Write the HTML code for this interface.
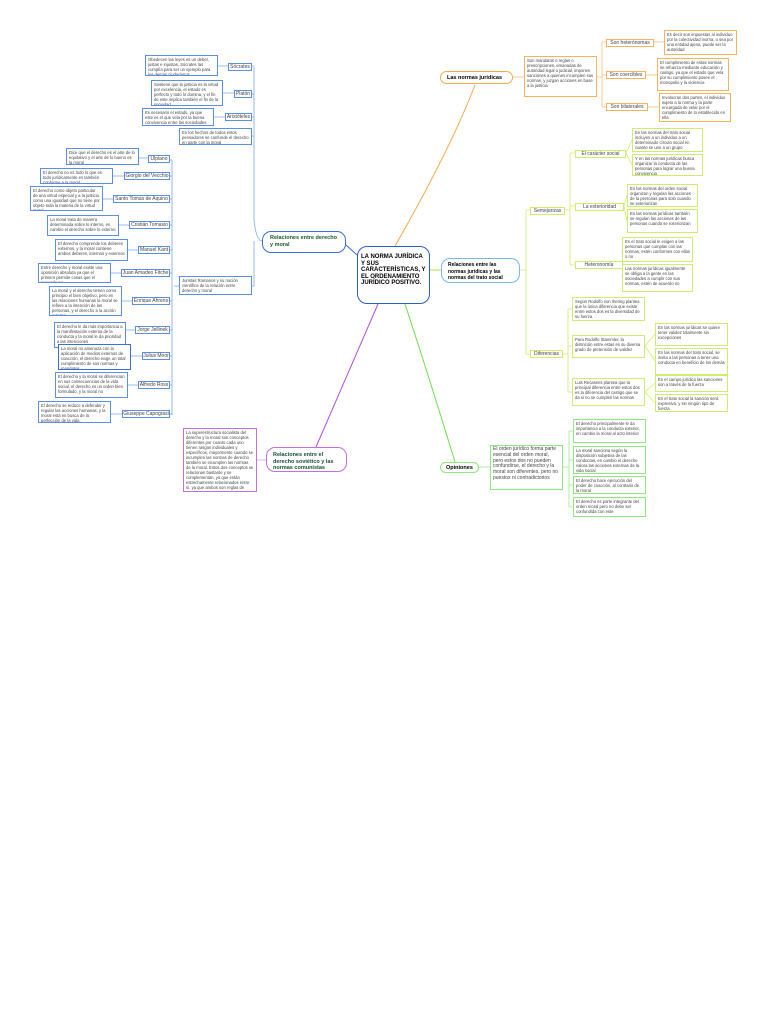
<!DOCTYPE html>
<html><head><meta charset="utf-8"><style>
body{margin:0;width:768px;height:1024px;background:#fff;position:relative;overflow:hidden;font-family:"Liberation Sans",sans-serif}
.b{position:absolute;box-sizing:border-box;font-size:4.2px;line-height:5px;color:#444;padding:1px 2px;overflow:hidden;background:#fff}
.bl{border:1.4px solid #5a8ee8}
.or{border:1.4px solid #f7b35a}
.gr{border:1.4px solid #cdee6a}
.gg{border:1.4px solid #8fe87a}
.pu{border:1.4px solid #c070e0}
.l{font-size:5px;line-height:6px;text-align:center;padding:0}
.t{position:absolute;box-sizing:border-box;border-radius:9px;background:#fff;font-weight:bold;font-size:6px;line-height:7px;padding:3px 7px;color:#123}
svg{position:absolute;left:0;top:0}
</style></head><body>
<svg width="768" height="1024" fill="none">
<path d="M395 246 Q450 150 475 85" stroke="#f7a94a" stroke-width="1"/>
<path d="M430 270 L441 270" stroke="#b8e03a" stroke-width="1"/>
<path d="M405 304 Q430 380 455 462" stroke="#6ede4a" stroke-width="1"/>
<path d="M378 304 L316 447" stroke="#b050e0" stroke-width="1"/>
<path d="M357 255 L346 245" stroke="#3a6ed8" stroke-width="1"/>
<g stroke="#7aa8ee" stroke-width="0.8">
<path d="M262 241 Q256 240 254 220 L254 67 M254 241 L254 286 L252 286"/>
<path d="M252 66 L254 66 M252 94 L254 94 M252 117 L254 117 M252 136 L254 136"/>
<path d="M218 66 L228 66 M223 93 L234 93 M214 117 L225 117"/>
<path d="M179 286 L174 286 M172 160 L172 415"/>
<path d="M170 160 L172 160 M170 176 L172 176 M170 199 L172 199 M170 225 L172 225 M170 250 L172 250 M170 273 L172 273 M170 301 L172 301 M170 330 L172 330 M170 356 L172 356 M170 385 L172 385 M170 414 L172 414"/>
<path d="M139 158 L148 158 M113 176 L124 176 M103 199 L113 199 M119 225 L129 225 M128 250 L138 250 M111 273 L121 273 M122 301 L132 301 M126 330 L135 330 M131 356 L142 356 M128 385 L138 385 M111 414 L122 414"/>
</g>
<g stroke="#f7c07a" stroke-width="0.8">
<path d="M513 77 L524 77 M597 77 L602 77 M602 42 L602 107 M602 42 L606 42 M602 75 L606 75 M602 107 L606 107 M654 42 L664 42 M646 75 L657 75 M648 107 L659 107"/>
</g>
<g stroke="#cdee6a" stroke-width="0.8">
<path d="M520 270 L526 270 M526 210 L526 354 M526 210 L530 210 M526 354 L530 354"/>
<path d="M565 210 L570 210 M570 153 L570 265 M570 153 L575 153 M570 206 L575 206 M570 265 L575 265"/>
<path d="M626 153 L632 140 M626 153 L632 165 M624 206 L627 195 M624 206 L627 221 M623 265 L622 250 M623 265 L622 278"/>
<path d="M563 354 L568 354 M568 309 L568 392 M568 309 L572 309 M568 346 L572 346 M568 392 L572 392"/>
<path d="M645 346 L655 334 M645 346 L655 361 M645 392 L655 383 M645 392 L655 403"/>
</g>
<g stroke="#9fe88a" stroke-width="0.8">
<path d="M479 467 L490 467 M563 467 L569 467 M569 431 L573 431 M569 460 L573 460 M569 485 L573 485 M569 507 L573 507 M569 431 L569 507"/>
</g>
<path d="M257 460 L266 460" stroke="#d8a0f0" stroke-width="0.8"/>
</svg>

<div class="t" style="left:357px;top:246px;width:73px;height:58px;border:1.6px solid #2a5ec8;border-radius:10px;padding:7px 2px 2px 3px;font-size:6px;line-height:6.5px;color:#000">LA NORMA JURÍDICA Y SUS CARACTERÍSTICAS, Y EL ORDENAMIENTO JURÍDICO POSITIVO.</div>

<div class="t" style="left:262px;top:231px;width:84px;height:22px;border:1px solid #3a6ed8;color:#1a5a2a;font-size:5.5px;line-height:7px;padding:3px 7px">Relaciones entre derecho y moral</div>
<div class="t" style="left:440px;top:71px;width:73px;height:13px;border:1px solid #f7a94a;color:#000;font-size:5.5px;padding:3px 6px">Las normas jurídicas</div>
<div class="t" style="left:441px;top:258px;width:79px;height:25px;border:1px solid #7ab8e8;color:#000;font-size:5px;line-height:6.5px;padding:3px 6px">Relaciones entre las normas jurídicas y las normas del trato social</div>
<div class="t" style="left:440px;top:462px;width:39px;height:11px;border:1px solid #8fe87a;color:#000;font-size:5.5px;padding:2px 5px">Opiniones</div>
<div class="t" style="left:266px;top:447px;width:81px;height:25px;border:1px solid #c070e0;color:#1a4a3a;font-size:5.5px;line-height:6.5px;padding:4px 6px">Relaciones entre el derecho soviético y las normas comunistas</div>

<div class="b or" style="left:524px;top:56px;width:73px;height:41px">Son mandatos o reglas o prescripciones, emanadas de autoridad legal o judicial, imponen sanciones a quienes incumplen sus normas, y juzgan acciones en base a la justicia</div>
<div class="b or l" style="left:606px;top:39px;width:48px;height:8px">Son heterónomas</div>
<div class="b or" style="left:664px;top:30px;width:73px;height:25px">Es decir son impuestas al individuo por la colectividad inorna, o sea por una entidad ajena, puede ser la autoridad</div>
<div class="b or l" style="left:606px;top:71px;width:40px;height:8px">Son coercibles</div>
<div class="b or" style="left:657px;top:58px;width:72px;height:33px">El cumplimiento de estas normas se refuerza mediante educación y castigo, ya que el estado que vela por su cumplimiento posee el monopolio y la violencia</div>
<div class="b or l" style="left:606px;top:103px;width:42px;height:8px">Son bilaterales</div>
<div class="b or" style="left:659px;top:93px;width:72px;height:29px">Involucran dos partes, el individuo sujeto a la norma y la parte encargada de velar por el cumplimiento de lo establecido en ella</div>

<div class="b gr l" style="left:530px;top:207px;width:35px;height:8px">Semejanzas</div>
<div class="b gr l" style="left:575px;top:150px;width:51px;height:8px">El carácter social</div>
<div class="b gr" style="left:632px;top:128px;width:71px;height:24px">En las normas del trato social incluyen a un individuo a un determinado círculo social en cuanto se une a un grupo</div>
<div class="b gr" style="left:632px;top:154px;width:71px;height:22px">Y en las normas jurídicas busca organizar la conducta de las personas para lograr una buena convivencia</div>
<div class="b gr l" style="left:575px;top:203px;width:49px;height:8px">La exterioridad</div>
<div class="b gr" style="left:627px;top:184px;width:71px;height:23px">En las normas del orden social organizan y regulan las acciones de la personas para solo cuando se exteriorizan</div>
<div class="b gr" style="left:627px;top:209px;width:71px;height:24px">En las normas jurídicas también se regulan las acciones de las personas cuando se exteriorizan</div>
<div class="b gr l" style="left:575px;top:261px;width:48px;height:8px">Heteronomía</div>
<div class="b gr" style="left:622px;top:237px;width:71px;height:25px">En el trato social le exigen a las personas que cumplan con las normas, estén conformes con ellas o no</div>
<div class="b gr" style="left:622px;top:264px;width:71px;height:28px">Las normas jurídicas igualmente se obliga a la gente en las sociedades a cumplir con sus normas, estén de acuerdo no</div>
<div class="b gr l" style="left:530px;top:350px;width:33px;height:8px">Diferencias</div>
<div class="b gr" style="left:572px;top:297px;width:73px;height:24px">Según Rodolfo von Ihering plantea que la única diferencia que existe entre estos dos es la diversidad de su fuerza</div>
<div class="b gr" style="left:572px;top:335px;width:73px;height:23px">Para Rodolfo Stammler, la distinción entre estas es su diversa grado de pretensión de validez</div>
<div class="b gr" style="left:655px;top:323px;width:73px;height:23px">En las normas jurídicas se quiere tener validez totalmente sin excepciones</div>
<div class="b gr" style="left:655px;top:348px;width:73px;height:27px">En las normas del trato social, se invita a las personas a tener una conducta en beneficio de los demás</div>
<div class="b gr" style="left:572px;top:378px;width:73px;height:28px">Luis Recasens plantea que la principal diferencia entre estos dos es la diferencia del castigo que se da si no se cumplen las normas</div>
<div class="b gr" style="left:655px;top:375px;width:73px;height:17px">En el campo jurídico las sanciones son a través de la fuerza</div>
<div class="b gr" style="left:655px;top:394px;width:73px;height:18px">En el trato social la sanción será expresiva, y sin ningún tipo de fuerza</div>

<div class="b gg" style="left:490px;top:445px;width:73px;height:45px;font-size:5px;line-height:5.8px">El orden jurídico forma parte esencial del orden moral, pero estos dos no pueden confundirse, el derecho y la moral son diferentes, pero no puestos ni contradictorios</div>
<div class="b gg" style="left:573px;top:419px;width:73px;height:24px">El derecho principalmente le da importancia a la conducta exterior, en cambio la moral al acto interior</div>
<div class="b gg" style="left:573px;top:446px;width:73px;height:28px">La moral sanciona según la disposición subjetiva de las conductas, en cambio el derecho valora las acciones externas de la vida social</div>
<div class="b gg" style="left:573px;top:476px;width:73px;height:18px">El derecho hace ejecución del poder de coacción, al contrario de la moral</div>
<div class="b gg" style="left:573px;top:497px;width:73px;height:20px">El derecho es parte integrante del orden moral pero no debe ser confundida con este</div>

<div class="b pu" style="left:183px;top:428px;width:74px;height:64px">La superestructura socialista del derecho y la moral son conceptos diferentes por cuanto cada uno tienen rasgos individuales y específicos, mayormente cuando se incumplen las normas de derecho también se incumplen las normas de la moral. Estos dos conceptos se relacionan bastante y se complementan, ya que están estrechamente relacionados entre sí, ya que ambos son reglas de conducta</div>

<div class="b bl" style="left:145px;top:55px;width:73px;height:21px">Obedecen las leyes es un deber, justas e injustas, Sócrates las cumplía para ser un ejemplo para los demás ciudadanos</div>
<div class="b bl l" style="left:228px;top:63px;width:24px;height:8px">Sócrates</div>
<div class="b bl" style="left:151px;top:80px;width:72px;height:26px">Sostiene que la justicia es la virtud por excelencia, el estado es perfecto y todo lo domina, y el fin de este implica también el fin de la sociedad</div>
<div class="b bl l" style="left:234px;top:90px;width:18px;height:8px">Platón</div>
<div class="b bl" style="left:142px;top:108px;width:72px;height:18px">Es necesario el estado, ya que este es el que vela por la buena convivencia entre las sociedades</div>
<div class="b bl l" style="left:225px;top:113px;width:27px;height:8px">Aristóteles</div>
<div class="b bl" style="left:179px;top:128px;width:73px;height:17px">En los hechos de todos estos pensadores se confunde el derecho en parte con la moral</div>
<div class="b bl" style="left:179px;top:276px;width:73px;height:19px">Juristas Romanos y su noción científica de la relación entre derecho y moral</div>

<div class="b bl" style="left:66px;top:148px;width:73px;height:17px">Dice que el derecho es el arte de lo equitativo y el arte de lo bueno es la moral</div>
<div class="b bl l" style="left:148px;top:155px;width:22px;height:8px">Ulpiano</div>
<div class="b bl" style="left:40px;top:168px;width:73px;height:16px">El derecho no es todo lo que es todo jurídicamente es también conforme a la moral</div>
<div class="b bl l" style="left:124px;top:172px;width:46px;height:8px">Giorgio del Vecchio</div>
<div class="b bl" style="left:30px;top:186px;width:73px;height:25px">El derecho como objeto particular de una virtud especial y a la justicia como una igualdad que no tiene por objeto toda la materia de la virtud moral</div>
<div class="b bl l" style="left:113px;top:195px;width:57px;height:8px">Santo Tomas de Aquino</div>
<div class="b bl" style="left:47px;top:215px;width:72px;height:21px">La moral trata de manera determinada sobre lo interno, en cambio el derecho sobre lo externo</div>
<div class="b bl l" style="left:129px;top:221px;width:41px;height:8px">Cristián Tomasio</div>
<div class="b bl" style="left:55px;top:239px;width:73px;height:22px">El derecho comprende los deberes externos, y la moral contiene ambos deberes, internos y externos</div>
<div class="b bl l" style="left:138px;top:246px;width:32px;height:8px">Manuel Kant</div>
<div class="b bl" style="left:38px;top:263px;width:73px;height:20px">Entre derecho y moral existe una oposición absoluta ya que el primero permite cosas que el segundo no</div>
<div class="b bl l" style="left:121px;top:269px;width:49px;height:8px">Juan Amadeo Fitche</div>
<div class="b bl" style="left:49px;top:286px;width:73px;height:30px">La moral y el derecho tienen como principio el bien objetivo, pero en las relaciones humanas la moral se refiere a la intención de las personas, y el derecho a la acción externa</div>
<div class="b bl l" style="left:132px;top:297px;width:38px;height:8px">Enrique Ahrens</div>
<div class="b bl" style="left:54px;top:322px;width:72px;height:26px">El derecho le da más importancia a la manifestación externa de la conducta y la moral le da prioridad a las intenciones</div>
<div class="b bl l" style="left:135px;top:326px;width:35px;height:8px">Jorge Jellinek</div>
<div class="b bl" style="left:58px;top:344px;width:73px;height:26px;border-color:#3a6ed8">La moral no amenaza con la aplicación de medios externos de coacción, el derecho exige un total cumplimiento de sus normas y mandatos</div>
<div class="b bl l" style="left:142px;top:352px;width:28px;height:8px">Julius Moor</div>
<div class="b bl" style="left:55px;top:372px;width:73px;height:26px">El derecho y la moral se diferencian en sus consecuencias de la vida social, el derecho es un orden bien formulado, y la moral no</div>
<div class="b bl l" style="left:138px;top:381px;width:32px;height:8px">Alfredo Ross</div>
<div class="b bl" style="left:38px;top:401px;width:73px;height:22px">El derecho se reduce a defender y regular las acciones humanas, y la moral está en busca de la perfección de la vida</div>
<div class="b bl l" style="left:122px;top:410px;width:48px;height:8px">Giuseppe Capograsi</div>
</body></html>
